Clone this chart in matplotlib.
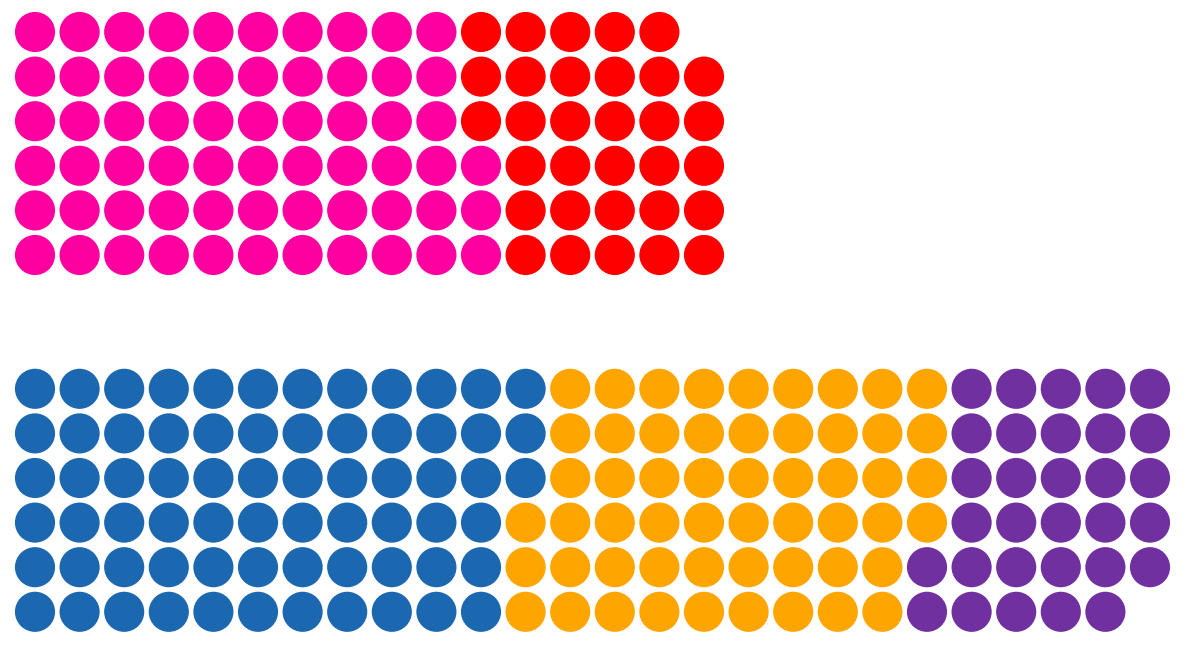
import matplotlib
matplotlib.use("Agg")
import matplotlib.pyplot as plt
from matplotlib.patches import Circle

# seat counts per block, in fill order
top_counts = [63, 32]
bottom_counts = [69, 55, 31]

top_colors = ["#FF00A0", "#FF0000"]
bottom_colors = ["#1B68B1", "#FFA500", "#7030A0"]

n_rows = 6
bottom_start_row = 8  # rows 6-7 are the gap between the blocks
radius = 0.45


def seat_positions(counts, first_row, bottom_up):
    # fill column by column, left to right
    total = sum(counts)
    pos = []
    for k in range(total):
        col = k // n_rows
        r = k % n_rows
        if bottom_up:
            r = n_rows - 1 - r
        pos.append((col, first_row + r))
    return pos


def draw_block(ax, counts, colors, first_row, bottom_up):
    pos = seat_positions(counts, first_row, bottom_up)
    k = 0
    for n, c in zip(counts, colors):
        for _ in range(n):
            x, y = pos[k]
            ax.add_patch(Circle((x, y), radius, facecolor=c, edgecolor="none"))
            k += 1


fig = plt.figure(figsize=(12, 6.58), dpi=100)
ax = fig.add_axes([0, 0, 1, 1])

# top block fills from the bottom row upwards, bottom block from the top down
draw_block(ax, top_counts, top_colors, 0, True)
draw_block(ax, bottom_counts, bottom_colors, bottom_start_row, False)

step = 44.6  # pixels between seat centres
ax.set_xlim(-35 / step, (1200 - 35) / step)
ax.set_ylim((658 - 32) / step, -32 / step)
ax.axis("off")

fig.savefig("out.png", dpi=100, facecolor="white")
plt.close(fig)
